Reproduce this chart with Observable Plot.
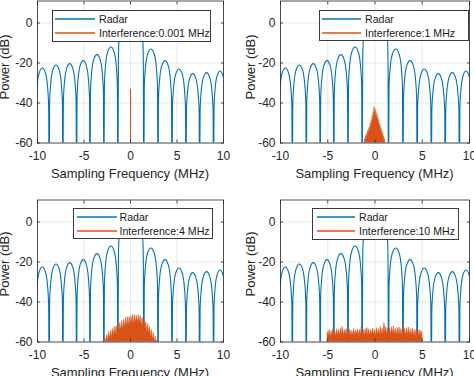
<!DOCTYPE html>
<html>
<head>
<meta charset="utf-8">
<script src="https://cdn.jsdelivr.net/npm/d3@7"></script>
<script src="https://cdn.jsdelivr.net/npm/@observablehq/plot@0.6"></script>
<style>
  html, body { margin: 0; padding: 0; background: #fff; }
  #fig { position: relative; width: 474px; height: 376px; overflow: hidden; background: #fff;
         font-family: "Liberation Sans", Arial, Helvetica, sans-serif; color: #262626; }
  .panel { position: absolute; }
  .xlab, .ylab { position: absolute; font-size: 13px; white-space: nowrap; transform: translate(-50%, -50%); }
  .ylab { transform: translate(-50%, -50%) rotate(-90deg); }
  .legend { position: absolute; box-sizing: border-box; border: 1px solid #3a3a3a; background: #fff; }
  .sw { position: absolute; overflow: visible; }
  .lt { position: absolute; font-size: 10.6px; line-height: 12px; transform: translateY(-50%); white-space: nowrap; color: #1a1a1a; }
</style>
</head>
<body>
<div id="fig"></div>
<script>
// ---------------- data ----------------
const xTicks = [-10, -5, 0, 5, 10];
const yTicks = [-60, -40, -20, 0];
const xLabel = "Sampling Frequency (MHz)";
const yLabel = "Power (dB)";
const radarName = "Radar";
const interferenceNames = ["Interference:0.001 MHz", "Interference:1 MHz", "Interference:4 MHz", "Interference:10 MHz"];

// radar spectrum (MHz, dB): sidelobe structure, nulls drop below -60
const radarX = [
  -10.22, -10.169, -10.044, -9.823, -9.485, -9.147, -8.926, -8.801,
  -8.75, -8.698, -8.572, -8.35, -8.01, -7.67, -7.448, -7.322,
  -7.27, -7.219, -7.094, -6.873, -6.535, -6.197, -5.976, -5.851,
  -5.8, -5.75, -5.627, -5.411, -5.08, -4.749, -4.533, -4.41,
  -4.36, -4.307, -4.18, -3.955, -3.61, -3.265, -3.04, -2.912,
  -2.86, -2.807, -2.68, -2.455, -2.11, -1.765, -1.54, -1.412,
  -1.36, -1.3, -1.25, -1.1, 0.035, 1.2, 1.33, 1.38,
  1.43, 1.484, 1.614, 1.843, 2.195, 2.547, 2.776, 2.906,
  2.96, 3.013, 3.14, 3.365, 3.71, 4.055, 4.28, 4.408,
  4.46, 4.513, 4.64, 4.865, 5.21, 5.555, 5.78, 5.908,
  5.96, 6.011, 6.136, 6.357, 6.695, 7.033, 7.254, 7.379,
  7.43, 7.483, 7.61, 7.835, 8.18, 8.525, 8.75, 8.878,
  8.93, 8.979, 9.098, 9.308, 9.63, 9.952, 10.162, 10.281, 10.33
];
const radarDb = [
  -90, -41.5, -31.5, -25, -22.5, -25, -31.5, -41.5,
  -90, -40, -30, -23.5, -21, -23.5, -30, -40,
  -90, -39.3, -29.3, -22.8, -20.3, -22.8, -29.3, -39.3,
  -90, -37.8, -27.8, -21.3, -18.8, -21.3, -27.8, -37.8,
  -90, -34.8, -24.8, -18.3, -15.8, -18.3, -24.8, -34.8,
  -90, -31, -21, -14.5, -12, -14.5, -21, -31,
  -90, -20, -9, 0, 5, 0, -9, -20,
  -90, -32, -22, -15.5, -13, -15.5, -22, -32,
  -90, -37.8, -27.8, -21.3, -18.8, -21.3, -27.8, -37.8,
  -90, -42, -32, -25.5, -23, -25.5, -32, -42,
  -90, -44.3, -34.3, -27.8, -25.3, -27.8, -34.3, -44.3,
  -90, -43.8, -33.8, -27.3, -24.8, -27.3, -33.8, -43.8,
  -90, -43, -33, -26.5, -24, -26.5, -33, -43, -90
];

// interference spectra [MHz, dB]
const intf0001 = [[0, -90], [0, -33]];
const intf1 = [
  [-1.15, -62], [-1.10, -60], [-1.05, -58], [-1.00, -60], [-0.95, -56.5], [-0.90, -59], [-0.85, -55.5],
  [-0.80, -58], [-0.75, -54], [-0.70, -57], [-0.65, -53], [-0.60, -56], [-0.55, -52], [-0.50, -55],
  [-0.45, -50], [-0.40, -53.5], [-0.35, -48.5], [-0.30, -52], [-0.25, -46.5], [-0.20, -50], [-0.15, -44.5],
  [-0.10, -48], [-0.05, -42], [0.00, -46.5], [0.05, -43], [0.10, -47.5], [0.15, -44], [0.20, -48.5],
  [0.25, -45.5], [0.30, -50], [0.35, -47], [0.40, -51.5], [0.45, -48.5], [0.50, -53], [0.55, -50.5],
  [0.60, -54.5], [0.65, -52], [0.70, -56], [0.75, -53.5], [0.80, -57.5], [0.85, -55], [0.90, -58.5],
  [0.95, -56.5], [1.00, -59.5], [1.05, -58], [1.10, -60.5], [1.15, -62]
];
const intf4 = [
  [-3.0, -61], [-2.9, -59.5], [-2.8, -61], [-2.7, -58], [-2.6, -60.5], [-2.5, -56.5], [-2.4, -59.5],
  [-2.3, -55], [-2.2, -58.5], [-2.1, -54.5], [-2.0, -58], [-1.9, -53.5], [-1.8, -57], [-1.7, -52.5],
  [-1.6, -56.5], [-1.5, -52], [-1.4, -55.5], [-1.3, -51], [-1.2, -55], [-1.1, -50.5], [-1.0, -54.5],
  [-0.9, -49.5], [-0.8, -54], [-0.7, -49], [-0.6, -53], [-0.5, -48], [-0.4, -52.5], [-0.3, -47.5],
  [-0.2, -52], [-0.1, -47.5], [0.0, -51.5], [0.1, -47], [0.2, -51], [0.3, -46.5], [0.4, -51.5],
  [0.5, -46.5], [0.6, -50.5], [0.7, -47], [0.8, -51], [0.9, -46.5], [1.0, -50.5], [1.1, -47],
  [1.2, -52], [1.3, -48], [1.4, -52.5], [1.5, -49], [1.6, -53.5], [1.7, -50], [1.8, -55],
  [1.9, -51], [2.0, -56], [2.1, -52.5], [2.2, -57.5], [2.3, -54], [2.4, -59], [2.5, -55.5],
  [2.6, -60], [2.7, -57.5], [2.8, -60.5], [2.9, -59], [3.0, -61]
];
const intf10 = [
  [-5.05, -62], [-5.0, -55], [-4.9, -57], [-4.8, -54], [-4.7, -57.5], [-4.6, -54.5], [-4.5, -57],
  [-4.4, -53.5], [-4.3, -56.5], [-4.2, -54.5], [-4.1, -57.5], [-4.0, -53.5], [-3.9, -56.5], [-3.8, -54],
  [-3.7, -57], [-3.6, -53], [-3.5, -56.5], [-3.4, -52.5], [-3.3, -57], [-3.2, -54], [-3.1, -56.5],
  [-3.0, -53.5], [-2.9, -57.5], [-2.8, -54], [-2.7, -56.5], [-2.6, -53.8], [-2.5, -57], [-2.4, -54.5],
  [-2.3, -56.8], [-2.2, -53.5], [-2.1, -57], [-2.0, -54.2], [-1.9, -56.5], [-1.8, -53.8], [-1.7, -57.2],
  [-1.6, -54], [-1.5, -56.5], [-1.4, -52.5], [-1.3, -56.8], [-1.2, -54], [-1.1, -57], [-1.0, -53.5],
  [-0.9, -56.5], [-0.8, -53], [-0.7, -56.8], [-0.6, -53.6], [-0.5, -57], [-0.4, -54], [-0.3, -56.5],
  [-0.2, -53.2], [-0.1, -56.8], [0.0, -54], [0.1, -57], [0.2, -53], [0.3, -56.5], [0.4, -53.5],
  [0.5, -56.8], [0.6, -52.5], [0.7, -56.5], [0.8, -53.2], [0.9, -56], [1.0, -50.5], [1.1, -55.5],
  [1.2, -52.5], [1.3, -56.5], [1.4, -53.3], [1.5, -57], [1.6, -53], [1.7, -56.5], [1.8, -52.5],
  [1.9, -56.2], [2.0, -52.2], [2.1, -56.5], [2.2, -53.4], [2.3, -57], [2.4, -53], [2.5, -56.5],
  [2.6, -52.8], [2.7, -56.5], [2.8, -53.5], [2.9, -57], [3.0, -52.6], [3.1, -56.2], [3.2, -53.4],
  [3.3, -57], [3.4, -53], [3.5, -56.5], [3.6, -52.8], [3.7, -56.8], [3.8, -53.6], [3.9, -57],
  [4.0, -53.3], [4.1, -56.8], [4.2, -54], [4.3, -57.2], [4.4, -53.8], [4.5, -57], [4.6, -54.2],
  [4.7, -57.2], [4.8, -54], [4.9, -57], [5.0, -54.8], [5.05, -62]
];

// ---------------- drawing ----------------
const BLUE = "#0072BD", RED = "#D95319";
const radar = radarX.map((x, i) => ({x, y: radarDb[i]}));
const toObj = arr => arr.map(([x, y]) => ({x, y}));

const panels = [
  {left: 0, top: 0, mL: 37, mR: 14, mT: 0.5, mB: 45.5, intf: intf0001, kind: "line", name: interferenceNames[0],
   leg: {x: 52, y: 10, w: 159, h: 32, sw0: 55, sw1: 95, tx: 99, r1: 19, r2: 33}, ylx: 4, yly: 67},
  {left: 237, top: 0, mL: 43, mR: 5, mT: 0.5, mB: 45.5, intf: intf1, kind: "area", name: interferenceNames[1],
   leg: {x: 319, y: 9.5, w: 150, h: 31.5, sw0: 322, sw1: 361, tx: 365, r1: 18.5, r2: 33}, ylx: 250, yly: 67},
  {left: 0, top: 188, mL: 37, mR: 14, mT: 11.5, mB: 34.5, intf: intf4, kind: "area", name: interferenceNames[2],
   leg: {x: 73, y: 207.5, w: 139.5, h: 31.5, sw0: 77, sw1: 117, tx: 119.5, r1: 216.5, r2: 231}, ylx: 4, yly: 264},
  {left: 237, top: 188, mL: 43, mR: 5, mT: 11.5, mB: 34.5, intf: intf10, kind: "area", name: interferenceNames[3],
   leg: {x: 312, y: 207.5, w: 147, h: 32, sw0: 317, sw1: 355, tx: 359, r1: 216.5, r2: 231}, ylx: 250, yly: 264}
];

const fig = document.getElementById("fig");
const fmt = d => String(d);
const NS = "http://www.w3.org/2000/svg";

for (const p of panels) {
  const W = 237, H = 188;
  const idata = toObj(p.intf);
  const intfMark = p.kind === "line"
    ? Plot.line(idata, {x: "x", y: "y", stroke: RED, strokeWidth: 1.1, clip: true})
    : Plot.areaY(idata, {x: "x", y1: -90, y2: "y", fill: RED, stroke: RED, strokeWidth: 0.5, clip: true});
  const svg = Plot.plot({
    width: W, height: H,
    marginLeft: p.mL, marginRight: p.mR, marginTop: p.mT, marginBottom: p.mB,
    x: {domain: [-10, 10], label: null},
    y: {domain: [-60, 11], label: null},
    style: {fontFamily: "'Liberation Sans', Arial, sans-serif", fontSize: "12px", color: "#262626",
            background: "transparent", overflow: "visible"},
    marks: [
      Plot.gridX(xTicks, {stroke: "#262626", strokeOpacity: 0.13, strokeWidth: 0.8}),
      Plot.gridY(yTicks, {stroke: "#262626", strokeOpacity: 0.13, strokeWidth: 0.8}),
      Plot.line(radar, {x: "x", y: "y", stroke: BLUE, strokeWidth: 1.1, curve: "monotone-x", clip: true}),
      intfMark,
      Plot.frame({stroke: "#262626", strokeWidth: 0.8}),
      Plot.axisX(xTicks, {anchor: "bottom", tickSize: 0, tickPadding: 8, tickFormat: fmt, label: null}),
      Plot.axisY(yTicks, {anchor: "left", tickSize: 0, tickPadding: 5, tickFormat: fmt, label: null}),
      Plot.axisX(xTicks, {anchor: "bottom", tickSize: -3, tickFormat: () => "", label: null, strokeWidth: 0.8}),
      Plot.axisX(xTicks, {anchor: "top", tickSize: -3, tickFormat: () => "", label: null, strokeWidth: 0.8}),
      Plot.axisY(yTicks, {anchor: "left", tickSize: -3, tickFormat: () => "", label: null, strokeWidth: 0.8}),
      Plot.axisY(yTicks, {anchor: "right", tickSize: -3, tickFormat: () => "", label: null, strokeWidth: 0.8})
    ]
  });
  svg.classList.add("panel");
  svg.style.left = p.left + "px";
  svg.style.top = p.top + "px";
  svg.style.maxWidth = "none";
  fig.appendChild(svg);

  // axis labels
  const axLeft = p.left + p.mL, axRight = p.left + W - p.mR, axBottom = p.top + H - p.mB;
  const xl = document.createElement("div");
  xl.className = "xlab"; xl.textContent = xLabel;
  xl.style.left = ((axLeft + axRight) / 2) + "px";
  xl.style.top = (axBottom + 30) + "px";
  fig.appendChild(xl);
  const yl = document.createElement("div");
  yl.className = "ylab"; yl.textContent = yLabel;
  yl.style.left = p.ylx + "px"; yl.style.top = p.yly + "px";
  fig.appendChild(yl);

  // legend
  const L = p.leg;
  const box = document.createElement("div");
  box.className = "legend";
  Object.assign(box.style, {left: L.x + "px", top: L.y + "px", width: L.w + "px", height: L.h + "px"});
  fig.appendChild(box);
  [[radarName, BLUE, L.r1], [p.name, RED, L.r2]].forEach(([txt, col, ry]) => {
    const w = L.sw1 - L.sw0;
    const s = document.createElementNS(NS, "svg");
    s.setAttribute("class", "sw");
    s.setAttribute("width", w);
    s.setAttribute("height", 4);
    s.style.left = L.sw0 + "px";
    s.style.top = (Math.round(ry) - 2) + "px";
    const ln = document.createElementNS(NS, "line");
    ln.setAttribute("x1", 0); ln.setAttribute("x2", w);
    ln.setAttribute("y1", 2); ln.setAttribute("y2", 2);
    ln.setAttribute("stroke", col);
    ln.setAttribute("stroke-width", 1.3);
    s.appendChild(ln);
    fig.appendChild(s);
    const t = document.createElement("div");
    t.className = "lt"; t.textContent = txt;
    t.style.left = L.tx + "px";
    t.style.top = ry + "px";
    fig.appendChild(t);
  });
}
</script>
</body>
</html>
